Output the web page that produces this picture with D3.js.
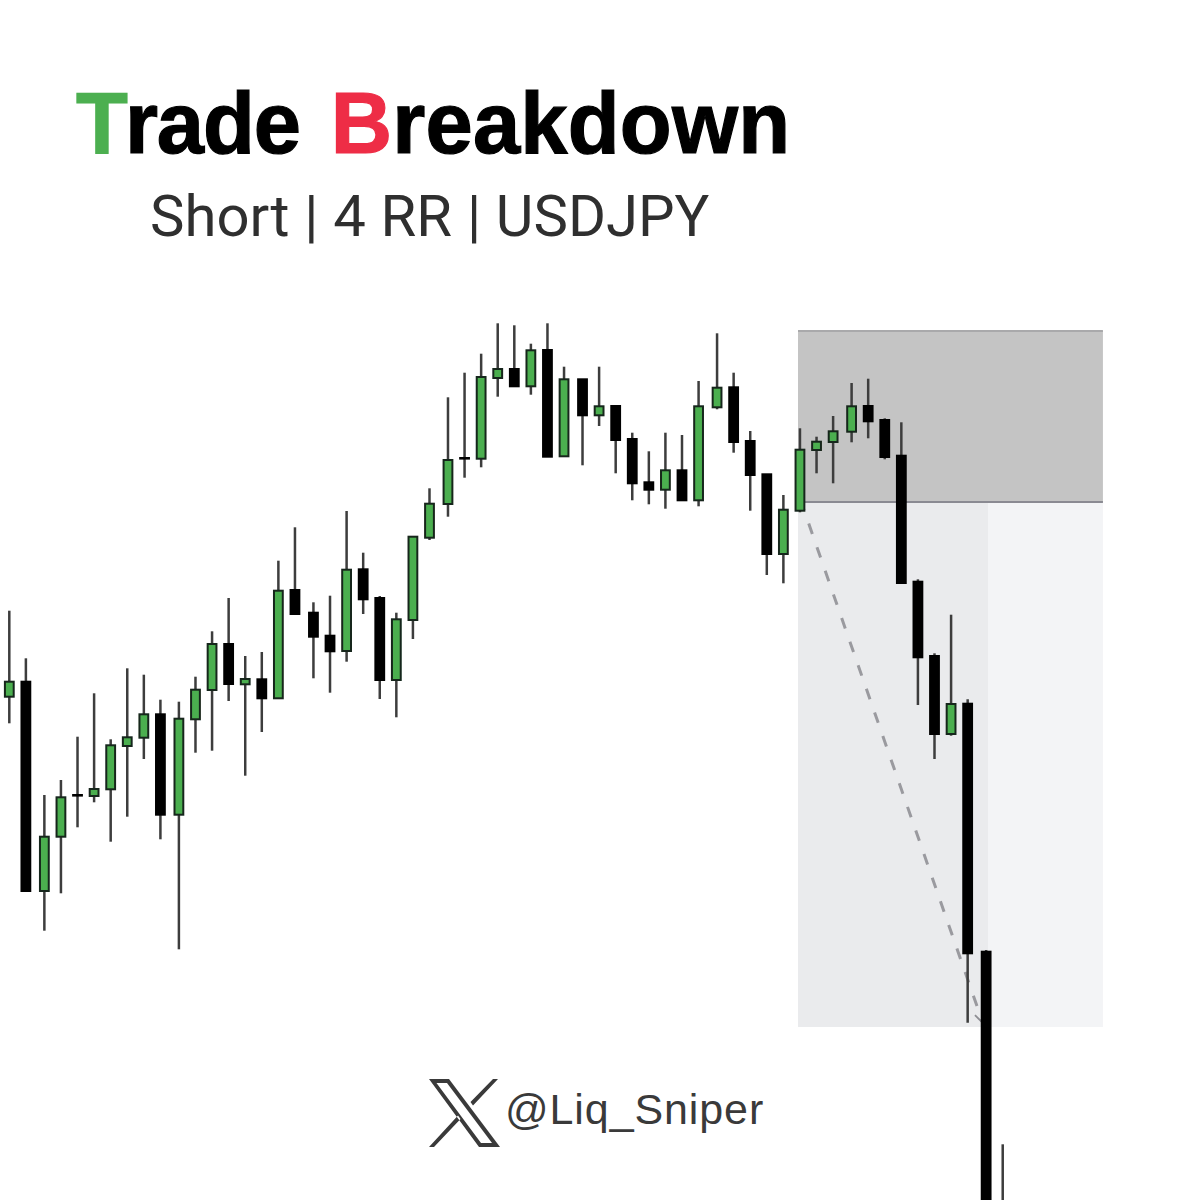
<!DOCTYPE html>
<html>
<head>
<meta charset="utf-8">
<script src="https://cdn.jsdelivr.net/npm/d3@7"></script>
<style>html,body{margin:0;padding:0;background:#fff}svg{display:block}</style>
</head>
<body>
<svg id="c" width="1200" height="1200"></svg>
<script>
const opens = [153.033,153.183,151.09,151.633,152.05,152.04,152.107,152.54,152.623,152.857,151.853,152.807,153.1,153.56,153.157,153.207,153.017,154.1,153.873,153.643,153.49,154.307,154.02,153.2,153.8,154.623,154.96,155.42,155.413,156.22,156.31,156.137,156.5,155.437,156.207,155.847,155.94,155.61,155.177,155.103,155.297,154.997,155.927,156.127,155.59,155.257,154.46,154.893,155.5,155.58,155.683,155.94,155.8,155.443,154.183,153.44,152.66,152.963,150.483,147.4];
const highs = [153.893,153.417,152.05,152.2,152.633,153.067,152.607,153.317,153.253,153.003,152.983,153.233,153.687,154.02,153.44,153.48,154.393,154.727,153.977,154.043,154.89,154.473,154.04,153.873,154.633,155.117,156.027,156.273,156.463,156.767,156.747,156.563,156.767,156.333,156.207,156.333,155.94,155.673,155.487,155.673,155.65,156.19,156.667,156.273,155.69,155.257,155.05,155.717,155.633,155.84,156.17,156.213,155.817,155.777,154.207,153.467,153.853,153.007,150.5,148.557];
const lows = [152.767,151.09,150.693,151.067,151.727,151.977,151.583,151.833,152.41,151.607,150.507,152.473,152.493,152.99,152.243,152.68,153.017,153.86,153.217,153.073,153.383,153.86,153.01,152.827,153.61,154.6,154.833,155.223,155.327,156.033,156.137,156.053,155.433,155.437,155.347,155.74,155.267,154.997,154.957,154.913,154.997,154.937,155.907,155.473,154.893,154.25,154.167,154.877,155.267,155.167,155.577,155.617,155.407,154.17,152.95,152.41,152.643,149.773,147.2,147.0];
const closes = [153.183,151.09,151.633,152.027,152.05,152.11,152.547,152.627,152.857,151.853,152.813,153.103,153.56,153.16,153.21,153.017,154.093,153.86,153.633,153.487,154.303,154.007,153.2,153.807,154.633,154.963,155.4,155.42,156.23,156.31,156.137,156.497,155.433,156.207,155.847,155.937,155.6,155.167,155.103,155.297,154.997,155.937,156.123,155.58,155.25,154.46,154.903,155.503,155.583,155.687,155.937,155.787,155.43,154.17,153.427,152.66,152.96,150.467,147.2,147.0];

// Short position tool: price levels and bar-slot extents
const stopPrice = 156.69, entryPrice = 154.98, targetPrice = 149.73;
const toolSlots = [47.57, 59.03, 65.96];
const pathSlots = [47.72, 58.72];
const pathPrices = [155.0, 149.77];

const titleWords = [["T","rade"],["B","reakdown"]];
const subtitleText = "Short | 4 RR | USDJPY";
const handleText = "@Liq_Sniper";

const GREEN = "#4caf50", RED = "#ee2d46";
const svg = d3.select("#c");

const sessionLength = 8, sessionLead = 6, sessionGap = 0.1146;
const slot = i => i + Math.floor((i + sessionLead) / sessionLength) * sessionGap;
const x = d3.scaleLinear().domain([0, 70]).range([9.3, 9.3 + 16.58 * 70]);
const y = d3.scaleLinear().domain([160, 148]).range([0, 1200]);

const defs = svg.append("defs");
defs.append("filter").attr("id","soft").attr("x","-5%").attr("y","-5%").attr("width","110%").attr("height","110%")
  .append("feGaussianBlur").attr("stdDeviation",0.55);
defs.append("marker").attr("id","arrow").attr("viewBox","0 0 12 12").attr("refX",11).attr("refY",6)
  .attr("markerWidth",12).attr("markerHeight",12).attr("markerUnits","userSpaceOnUse").attr("orient","auto")
  .append("path").attr("d","M1,1L11,6L1,11").attr("fill","none").attr("stroke","#8f8f94").attr("stroke-width",1.8);

const chart = svg.append("g").attr("filter","url(#soft)");

// position tool
chart.append("rect").attr("x",x(toolSlots[0])).attr("y",y(stopPrice))
  .attr("width",x(toolSlots[2])-x(toolSlots[0])).attr("height",y(entryPrice)-y(stopPrice)).attr("fill","#c4c4c4");
chart.append("rect").attr("x",x(toolSlots[0])).attr("y",y(entryPrice))
  .attr("width",x(toolSlots[1])-x(toolSlots[0])).attr("height",y(targetPrice)-y(entryPrice)).attr("fill","#eaebed");
chart.append("rect").attr("x",x(toolSlots[1])).attr("y",y(entryPrice))
  .attr("width",x(toolSlots[2])-x(toolSlots[1])).attr("height",y(targetPrice)-y(entryPrice)).attr("fill","#f3f4f6");
chart.append("line").attr("x1",x(toolSlots[0])).attr("x2",x(toolSlots[2])).attr("y1",y(stopPrice)).attr("y2",y(stopPrice))
  .attr("stroke","#a9a9ab").attr("stroke-width",1.8);
chart.append("line").attr("x1",x(toolSlots[0])).attr("x2",x(toolSlots[2])).attr("y1",y(entryPrice)).attr("y2",y(entryPrice))
  .attr("stroke","#8a8a92").attr("stroke-width",2);

chart.append("line")
  .attr("x1",x(pathSlots[0])).attr("y1",y(pathPrices[0]))
  .attr("x2",x(pathSlots[1])).attr("y2",y(pathPrices[1]))
  .attr("stroke","#9a9a9f").attr("stroke-width",3).attr("stroke-dasharray","11 14");
chart.append("line")
  .attr("x1",x(pathSlots[1])-1).attr("y1",y(pathPrices[1])-3)
  .attr("x2",x(pathSlots[1])).attr("y2",y(pathPrices[1]))
  .attr("stroke","none").attr("marker-end","url(#arrow)");

// candles
const bars = d3.range(opens.length).map(i => ({i, o:opens[i], h:highs[i], l:lows[i], c:closes[i]}));
const candle = chart.selectAll("g.candle").data(bars).join("g").attr("class","candle");
candle.append("line")
  .attr("x1",d=>x(slot(d.i))).attr("x2",d=>x(slot(d.i)))
  .attr("y1",d=>y(d.h)).attr("y2",d=>y(d.l))
  .attr("stroke","#3c3c3c").attr("stroke-width",2.5);
candle.append("rect")
  .attr("x",d=>x(slot(d.i))-4.4).attr("width",8.8)
  .attr("y",d=>y(Math.max(d.o,d.c)))
  .attr("height",d=>Math.max(0.6,Math.abs(y(d.o)-y(d.c))))
  .attr("fill",d=>d.c>d.o?GREEN:"#000")
  .attr("stroke",d=>d.c>d.o?"#16261a":"#000").attr("stroke-width",2);

// title
const title = svg.append("text").attr("transform","translate(76,153) scale(0.965,1)")
  .attr("font-family","'Liberation Sans',Arial,sans-serif").attr("font-weight",700)
  .attr("font-size",88).attr("fill","#000").attr("stroke-width",1.2);
title.append("tspan").text(titleWords[0][0]).attr("fill",GREEN).attr("stroke",GREEN).attr("letter-spacing",-3);
title.append("tspan").text(titleWords[0][1]).attr("stroke","#000").attr("letter-spacing",-1.2);
title.append("tspan").text(titleWords[1][0]).attr("fill",RED).attr("stroke",RED).attr("x",264).attr("letter-spacing",0.2);
title.append("tspan").text(titleWords[1][1]).attr("stroke","#000").attr("letter-spacing",0.2);

svg.append("text").attr("x",150).attr("y",236)
  .attr("font-family","Roboto,Inter,sans-serif").attr("font-size",58).attr("fill","#2f2f2f")
  .attr("word-spacing",0.4)
  .text(subtitleText);

// handle
svg.append("path")
  .attr("fill-rule","evenodd").attr("fill","#3a3a3a")
  .attr("d","M429,1079H449L500,1147H479ZM436.5,1083L481,1143H492L447,1083ZM493,1079H498L473,1105.5L470.5,1102ZM458,1115.5L460.5,1119L434,1147H429Z");
svg.append("text").attr("x",505).attr("y",1124)
  .attr("font-family","'Liberation Sans',Arial,sans-serif").attr("font-size",43).attr("fill","#3a3a3a")
  .attr("letter-spacing",0.9)
  .text(handleText);
</script>
</body>
</html>
